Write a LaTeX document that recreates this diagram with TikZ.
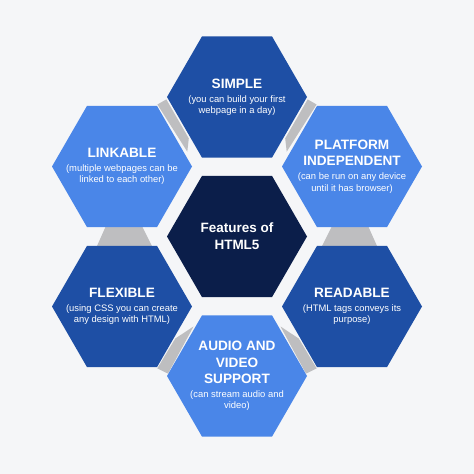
\documentclass[tikz,border=0pt]{standalone}
\usepackage{fontspec}
\setmainfont{Liberation Sans}
\usetikzlibrary{shapes.geometric}
\definecolor{bgc}{RGB}{245,246,248}
\definecolor{darkb}{RGB}{30,79,165}
\definecolor{lightb}{RGB}{74,134,232}
\definecolor{navyc}{RGB}{11,30,74}
\definecolor{grayc}{RGB}{190,190,192}
\begin{document}
\begin{tikzpicture}[x=1pt,y=-1pt,
  hexa/.style={regular polygon, regular polygon sides=6, minimum size=140pt, inner sep=0pt, draw=none},
  txt/.style={text=white, align=center, inner sep=0pt, font=\fontsize{9.4}{11.2}\selectfont},
  band/.style={fill=grayc, draw=none}]
\newcommand{\hxtitle}[1]{{\fontsize{13.6}{16}\selectfont\bfseries #1}}
\useasboundingbox (0,0) rectangle (474,474);
\fill[bgc] (0,0) rectangle (474,474);
% gray connector pieces
\fill[band] (107.7,222) -- (140,222) -- (154,250) -- (95.2,250) -- cycle;
\fill[band] (366.3,222) -- (334,222) -- (320,250) -- (378.8,250) -- cycle;
\fill[band] (157.4,104.5) -- (166.3,99.4) -- (188.8,138.4) -- (187.3,151.7) -- cycle;
\fill[band] (316.6,104.5) -- (307.7,99.4) -- (285.2,138.4) -- (286.7,151.7) -- cycle;
\fill[band] (193.5,326.5) -- (168.0,373.6) -- (157.3,368.4) -- (175.3,338.5) -- cycle;
\fill[band] (280.5,326.5) -- (306.0,373.6) -- (316.7,368.4) -- (298.7,338.5) -- cycle;
% hexagons
\node[hexa, fill=navyc]  (center) at (237,236.5) {};
\node[hexa, fill=darkb]  (simple) at (237,97) {};
\node[hexa, fill=lightb] (platform) at (352,166.5) {};
\node[hexa, fill=darkb]  (readable) at (352,306.5) {};
\node[hexa, fill=lightb] (audio) at (237,376) {};
\node[hexa, fill=darkb]  (flexible) at (122,306.5) {};
\node[hexa, fill=lightb] (linkable) at (122,166.5) {};
% texts
\node[txt, font=\fontsize{13.5}{17}\selectfont\bfseries] (center-t) at (center) {Features of\\HTML5};
\node[txt] (simple-t) at (simple) {\hxtitle{SIMPLE}\\[3pt](you can build your first\\webpage in a day)};
\node[txt] (platform-t) at (platform) {\hxtitle{PLATFORM}\\[5pt]\hxtitle{INDEPENDENT}\\[3pt](can be run on any device\\until it has browser)};
\node[txt] (readable-t) at (readable) {\hxtitle{READABLE}\\[3pt](HTML tags conveys its\\purpose)};
\node[txt] (audio-t) at (audio) {\hxtitle{AUDIO AND}\\[5pt]\hxtitle{VIDEO}\\[5pt]\hxtitle{SUPPORT}\\[3pt](can stream audio and\\video)};
\node[txt] (flexible-t) at (flexible) {\hxtitle{FLEXIBLE}\\[3pt](using CSS you can create\\any design with HTML)};
\node[txt] (linkable-t) at (linkable) {\hxtitle{LINKABLE}\\[3pt](multiple webpages can be\\linked to each other)};
\end{tikzpicture}
\end{document}
